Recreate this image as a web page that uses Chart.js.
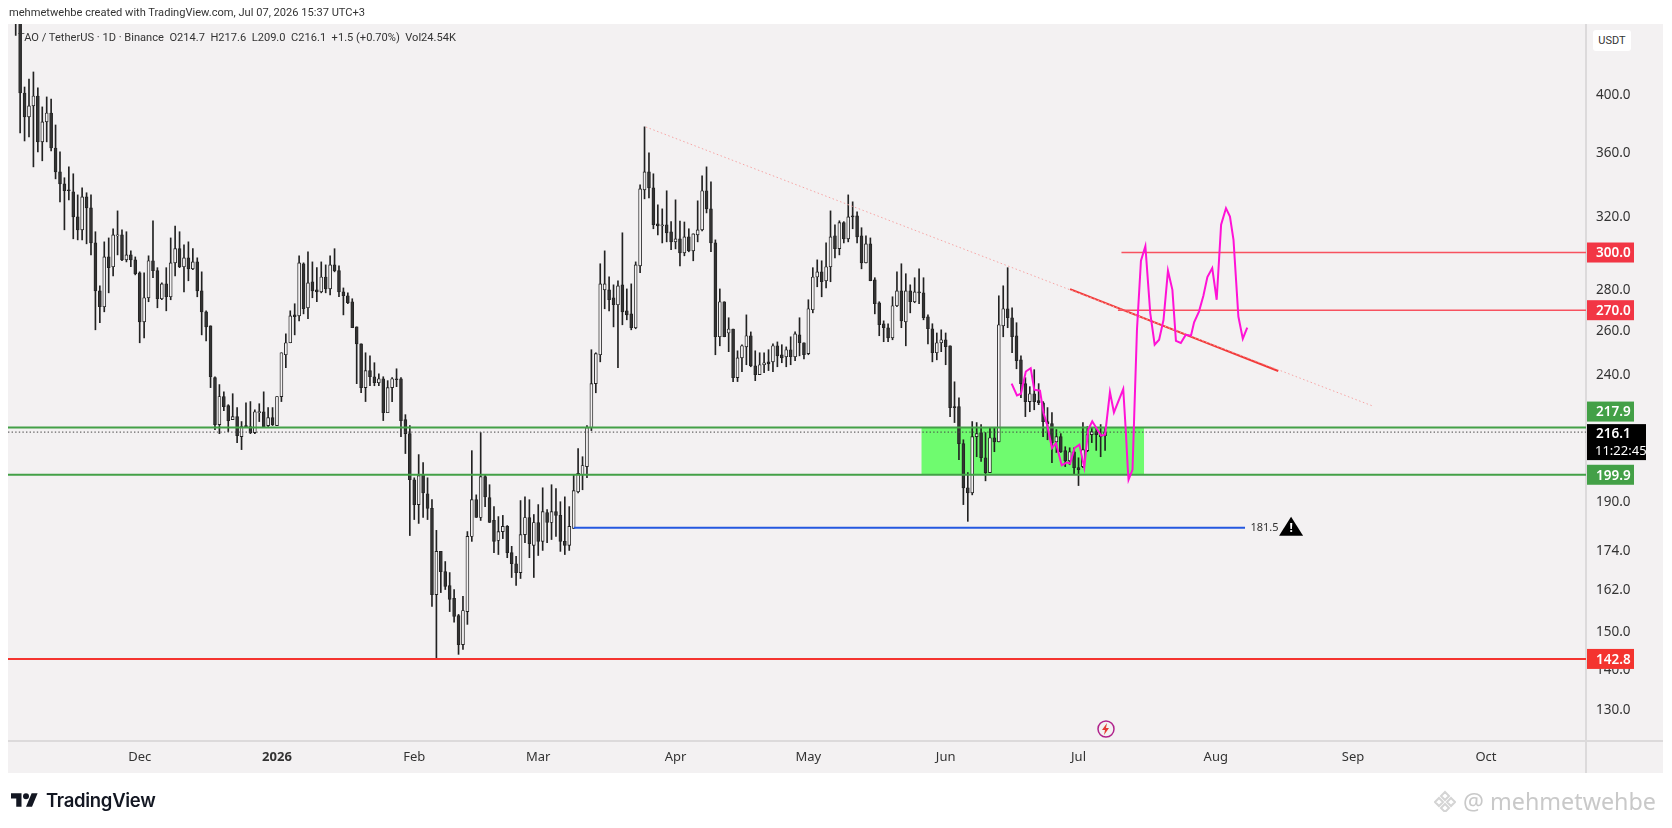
<!DOCTYPE html>
<html>
<head>
<meta charset="utf-8">
<title>TAO / TetherUS</title>
<script src="https://cdn.jsdelivr.net/npm/chart.js@4"></script>
<style>
    html, body { margin: 0; padding: 0; background: #fff; }
    #wrap { position: relative; width: 1672px; height: 828px; overflow: hidden; font-family: Roboto, sans-serif; }
    canvas { position: absolute; left: 0; top: 0; }
    .txt { position: absolute; white-space: pre; color: #333; }
    #credit { left: 9px; top: 5px; font-size: 11.1px; line-height: 16px; }
    #legend { left: 18px; top: 30px; font-size: 11.1px; line-height: 16px; }
    #usdt { left: 1593px; top: 30px; width: 38px; height: 21px; line-height: 21px; background: #fff; border-radius: 3px; font-size: 11px; text-align: center; }
    #brand { left: 46px; top: 786px; font-family: Inter, sans-serif; font-weight: 600; font-size: 18.5px; line-height: 28px; color: #131722; letter-spacing: -0.3px; }
    #mark { left: 1463px; top: 786px; font-family: "Noto Sans", sans-serif; font-size: 23.3px; line-height: 30px; color: #c9c9c9; }
    svg { position: absolute; }
</style>
</head>
<body>
<div id="wrap">
    <canvas id="chart" width="1672" height="828"></canvas>
    <div class="txt" id="credit">mehmetwehbe created with TradingView.com, Jul 07, 2026 15:37 UTC+3</div>
    <div class="txt" id="legend">TAO / TetherUS · 1D · Binance  O214.7  H217.6  L209.0  C216.1  +1.5 (+0.70%)  Vol24.54K</div>
    <div class="txt" id="usdt">USDT</div>
    <svg style="left:11px;top:793px" width="27" height="14" viewBox="0 4 36 18"><path fill="#131722" d="M14 22H7V11H0V4h14v18zM28 22h-8l7.5-18h8L28 22z"/><circle fill="#131722" cx="20" cy="8" r="4"/></svg>
    <div class="txt" id="brand">TradingView</div>
    <svg style="left:1434px;top:790px" width="22" height="22" viewBox="0 0 22 22"><path fill="none" stroke="#d4d4d4" stroke-width="2" d="M11 2l4 4-4 4-4-4zM5 8l4 4-4 4-4-4zM17 8l4 4-4 4-4-4zM11 14l4 4-4 4-4-4z"/></svg>
    <div class="txt" id="mark">@ mehmetwehbe</div>
    <svg style="left:1096px;top:719px" width="20" height="20" viewBox="0 0 20 20"><circle cx="10" cy="10" r="8" fill="none" stroke="#b0228c" stroke-width="1.5"/><path fill="#e53935" d="M11 4l-5 7h3l-1 5 5-7h-3z"/></svg>
</div>
<script>
// days are counted from Dec 1 2025
const FIRST_DAY = -28;
const opens = [470,458,401.5,384.3,392.1,399.3,367.2,380.8,387.1,363.1,
    347.6,340.1,336.4,335.2,320.2,312.7,332.1,325.5,305.3,279.7,
    271.7,297.6,292.3,309.3,309.8,296,298.7,296,289.1,264.3,
    276.2,295.5,290.2,275.7,283.3,276.7,294.4,302.1,292.3,297.1,
    291.2,294.9,279.7,269.2,262.4,238.7,219.1,230.6,226.8,221.1,
    222.3,214.3,218.7,218.3,215.9,223.9,224.3,218.7,221.9,218.7,
    230.6,248.9,254.4,267.7,267.2,293.9,271.2,284.4,280.2,279.2,
    286.9,280.7,293.3,290.2,279.2,277.2,274.2,261.9,253.9,234.4,
    241.8,239.1,236.5,238.2,223.9,234.4,238.2,238.2,221.1,215.5,
    198.1,189.3,200,193.1,188,160.6,173.8,167.5,163.3,159.5,
    154.6,146.6,155.7,178.6,191,184.9,199.2,191.7,183.9,177.3,
    180.2,181.9,173.4,169.9,167.2,179.2,184.9,175.7,183.2,177,
    186.6,183.2,186.9,185.6,177,175.7,181.2,193.8,200,202.9,
    217.9,236.1,248.9,280.2,280.2,276.2,272.7,282.8,269.7,268.2,
    261.5,292.8,336.4,347.6,337.6,316.2,315,315.6,311.6,305.9,
    307.6,299.8,308.7,300.9,309.8,312.7,335.8,324.9,305.3,257.2,
    274.2,259,260.9,238.7,247.5,252.5,257.7,243.9,240,244.4,
    245.7,245.7,253,248.9,248,251.2,248,258.1,254.4,249.4,
    270.2,286.9,289.6,284.9,292.3,309.3,302.1,316.8,307.6,320.8,
    320.8,309.3,294.4,304.8,285.4,273.7,263.4,261.5,256.7,272.2,
    279.7,264.3,279.7,274.2,279.2,278.7,266.8,261,249.8,254.4,
    255.8,253,226.4,226.4,211.6,195.2,193.4,214.3,215.9,206.2,
    200.7,213.9,212.3,262.4,270.7,266.3,257.7,246.6,236.1,228.5,
    231.8,228.9,228,220.3,219.5,212.3,214.3,208.9,205.1,208.5,
    202.5,202.9,208.9,215.1,216.3,215.1,214.7];
const highs = [480,480,405.9,411.8,417.2,405.2,391.4,398.6,397.1,378.7,
    360.5,343.9,350.8,346.4,333.3,337.6,334.6,333.3,311.6,282.3,
    305.9,308.1,313.3,323.7,312.7,311.6,300.9,297.6,289.6,289.1,
    298.2,317.9,291.8,283.8,291.8,308.1,314.9,311.6,304.2,305.9,
    302.1,297.1,289.6,269.7,262.4,239.1,235.7,232.6,227.2,231.8,
    226,220.3,228,228.5,225.1,227.6,232.6,226,226,230.6,
    249.8,258.6,269.7,273.2,298.2,294.4,300.4,294.9,291.8,294.9,
    293.3,298.2,302.1,292.8,281.2,278.7,275.7,261.9,253.9,249.8,
    248.4,245.3,240.4,239.1,237.4,238.7,242.6,238.7,223.1,218.7,
    198.8,207.4,204.4,198.8,191,180.6,173.8,170.6,167.2,162.1,
    154.9,160.1,180.2,208.9,192.7,215.9,200,196.3,188.6,185.2,
    185.6,182.2,175.4,172.2,190.7,192,191,185.9,189.3,195.2,
    187.6,196.3,194.9,190.3,192,188.6,200,209.7,206.6,218.7,
    251.2,249.8,293.9,300.9,287,282.8,284.9,311,280.7,283.3,
    294.9,339.5,377.4,359.9,346.4,327.3,324.9,335.8,317.4,330.3,
    317.8,317.2,313.3,310.4,329.7,345.1,350.8,341.4,307,280.7,
    274.2,266.3,260.9,250.7,253.5,267.7,259.5,250.7,249.8,249.8,
    251.2,253.9,254.8,253.5,252.5,257.2,259.5,266.3,254.4,275.2,
    291.8,296,295.5,305.3,323.7,315.6,317.9,317.4,333.3,329.1,
    323.1,313.9,309.3,308.1,286.5,274.2,264.8,263.4,276.7,289.6,
    293.9,288.6,282.8,286.5,291.2,286.5,267.7,263.4,259,260.5,
    259,253,236.9,230.1,213.1,200.7,220.3,219.9,219.1,215.9,
    217.9,217.9,277.2,282.3,291.8,271.2,263.9,248.4,238.7,234.8,
    242.2,236.1,228.5,226,223.9,217.1,215.5,210.4,210,210,
    206.2,219.9,218.3,217.9,217.9,219.1,217.6];
const lows = [446,373.2,367.8,370.5,350.8,360.5,354.7,367.2,361.2,343.2,
    329.1,312.7,330.3,307.6,307,307,304.8,298.7,260.5,263.9,
    269.2,278.7,287.5,298.7,295.5,294.9,292.3,288,254.4,256.7,
    274.2,286.5,271.2,275.2,269.7,275.2,287.5,291.8,279.2,284.9,
    290.7,276.7,258.1,255.3,234.4,217.1,215.5,224.7,216.3,221.1,
    212,209.3,217.9,215.5,215.5,220.3,217.9,217.9,218.7,218.7,
    228.5,243.1,254.4,258.1,264.8,268.2,265.8,276.2,274.2,278.7,
    278.7,277.7,289.6,276.7,267.7,273.2,261.5,236.1,232.2,228.5,
    235.2,235.2,235.2,220.7,223.9,228.5,234.8,214.3,207.8,178.9,
    184.2,182.9,184.9,184.2,157.2,142.8,161.2,162.1,155.7,152.7,
    144,145.3,152.1,177,184.9,183.9,188.6,183.2,173.4,172.8,
    177.9,171.8,165.7,163.3,165.4,176.6,171.8,165.7,172.5,174.1,
    176.6,177.6,178.6,173.8,172.8,174.1,181.2,193.4,194.5,198.8,
    216.7,232.2,245.7,270.7,269.7,261.9,243.1,262.9,265.3,260.5,
    261,289.1,330.9,331.5,313.3,309.8,305.3,305.9,301.5,302,
    292.8,298.2,300.4,295.5,305.9,312.1,322.5,300.4,248.9,253,
    257.2,250.3,237,237,241.3,244.4,243.5,237.4,240,240.9,
    241.8,241.3,243.5,245.3,243.5,244.4,246.2,248.4,247,248.9,
    268.7,281.8,276.7,281.2,284.4,297.1,298.7,305.3,305.9,313.3,
    305.3,291.2,294.4,284.9,268.2,257.7,254.9,254.9,255.8,271.7,
    261.5,253,268.7,273.7,273.2,265.3,253.9,245.7,246.6,250.3,
    244.4,222.3,219.9,205.5,189.3,183.6,192.7,206.6,204.8,197.7,
    200.7,208.5,212.3,257.2,261.5,249.8,242.6,230.1,222.3,224.3,
    225.1,227.2,214.3,213.1,204.4,208.2,208.2,202.9,203.6,200,
    196,202.5,208.5,212,209,206.6,209];
const closes = [458,401.5,384.3,392.1,399.3,367.2,380.8,387.1,363.1,347.6,
    340.1,335.8,335.8,320.2,312.7,332.1,325.5,305.3,279.7,271.7,
    297.6,291.8,309.8,309.8,296,298.7,296,288.6,264.3,276.2,
    295.5,290.2,275.7,283.3,276.7,294.4,302.1,292.3,297.1,291.2,
    294.9,279.7,269.2,261.9,239.1,219.1,230.6,226.4,220.7,222.3,
    214.7,218.3,218.3,215.9,224.3,224.3,218.3,221.9,219.1,230.6,
    249.8,254.4,267.2,266.8,294.4,270.7,283.8,279.7,279.2,286.9,
    280.7,293.3,290.2,279.2,277.2,273.7,261.5,253.9,234.4,241.8,
    239.1,236.5,238.2,223.9,234.4,238.2,237.8,220.7,215.5,198.1,
    189.3,199.6,193.4,188,160.6,173.8,167.5,163,159.2,154.3,
    146.6,156,178.6,191,184.9,199.2,192,183.2,177,180.2,
    181.9,173.4,169.9,167.2,179.2,184.9,176.3,183.2,177,186.9,
    183.2,186.9,185.6,177,175.7,181.9,194.2,200.4,203.3,217.9,
    236.1,249.4,283.3,283.3,275.2,272.7,282.3,269.2,267.7,261.5,
    293.3,337,347.6,337.6,315.6,315,315.6,311,305.9,307.6,
    299.8,308.7,300.9,310.4,312.7,335.8,324.9,305.3,257.2,274.2,
    257.2,260.9,238.7,247.5,253,257.7,243.9,240,244.4,245.3,
    244.8,253,248.4,247.5,251.2,248,258.6,254.4,248.9,270.7,
    286.9,289.6,284.4,292.3,308.7,302.1,316.8,307.6,320.2,320.2,
    308.7,294.4,304.8,284.9,273.2,262.9,261.5,256.7,272.2,279.7,
    264.8,279.7,274.2,279.2,278.7,266.3,261,249.8,254.4,255.8,
    252.6,226,226,211.6,195.2,193.4,214.3,215.5,206.2,200.7,
    213.9,212.3,262.9,270.7,266.3,257.2,246.2,236.1,228.5,231.8,
    228.5,228,220.3,219.5,211.9,214.3,208.5,205.1,208.5,202.5,
    201.8,209.3,215.1,216.3,215.1,214.3,216.1];

const monthDays = [0,31,62,90,121,151,182,212,243,274,304];
const monthLabels = ["Dec","2026","Feb","Mar","Apr","May","Jun","Jul","Aug","Sep","Oct"];
const priceTicks = [400,360,320,280,260,240,190,174,162,150,140,130];

// the hand drawn path
const pathDays = [196.9,198.1,199,200.1,201.2,202,203.3,204.1,204.9,206,206.9,208.2,209.4,210.1,211.1,212.2,213.3,214.2,215.1,217.1,218,219.1,220,222.1,222.7,223.1,223.3,224.2,224.6,225.2,226.1,227.1,228.2,229.2,230.2,231.2,232.2,233.2,234,235.1,236.2,237.4,238.1,239.2,240.2,241.1,242.2,243.2,244.2,245.3,246.2,247,248.1,249.1,250.1];
const pathPrices = [236.1,231.1,231.8,241.4,242.9,233.5,233.1,223.8,219.1,209.9,211.8,203.4,204.5,204,209.9,211.2,202.5,217.1,220.4,214.7,215.1,232.5,224,233.8,215.9,203,198.1,201.8,223.9,260.5,295.5,303.5,268.6,253.5,255.8,265.3,290.2,280.2,255.3,254.3,258.1,257.7,264.1,269.3,277.2,286.8,291.6,275.2,315.6,325.3,320.3,307,266.9,256.3,261.5];

// trend line, first two points are the dotted ends, last two the solid part
const trendDays = [114.3,278.5,210.1,257.1];
const trendPrices = [377.3,226.6,280.6,241.6];

const DAY_MIN = -29.74, DAY_MAX = 326.6;
const PRICE_MIN = 122.92, PRICE_MAX = 455.4;
const PANE_BG = '#f3f1f2';
const UP_FILL = PANE_BG, DOWN_FILL = '#333333', CANDLE_LINE = '#222222';

const days = opens.map((_, i) => FIRST_DAY + i);

function level(price, from, to, color, width, dash){
    return {
        type:'line',
        data:[{x:from,y:price},{x:to,y:price}],
        borderColor:color, borderWidth:width, borderDash:dash||[],
        pointRadius:0, order:3
    };
}

function segment(d0, p0, d1, p1, color, width, dash){
    return {
        type:'line',
        data:[{x:d0,y:p0},{x:d1,y:p1}],
        borderColor:color, borderWidth:width, borderDash:dash||[],
        pointRadius:0, order:3
    };
}

const datasets = [
    // green zone
    {
        type:'line',
        data:[{x:176.5,y:217.9},{x:226.8,y:217.9}],
        borderWidth:0, pointRadius:0,
        backgroundColor:'#6ffb6f', fill:{value:199.9}, order:10
    },
    level(217.9, DAY_MIN, DAY_MAX, '#43a047', 2),
    level(199.9, DAY_MIN, DAY_MAX, '#43a047', 2),
    level(216.1, DAY_MIN, DAY_MAX, '#444444', 1, [1.4,2.2]),
    level(142.8, DAY_MIN, DAY_MAX, '#f4342f', 2),
    level(181.5, 98, 249.6, '#2458e0', 2),
    level(300, 221.7, DAY_MAX, '#f7525f', 1.5),
    level(270, 220.9, DAY_MAX, '#f7525f', 1.5),
    segment(trendDays[0], trendPrices[0], trendDays[1], trendPrices[1], '#f7a5a5', 1, [1.5,2.5]),
    segment(trendDays[2], trendPrices[2], trendDays[3], trendPrices[3], '#f23a3a', 2),
    // wicks
    {
        type:'bar', grouped:false, order:6,
        data:days.map((d,i)=>({x:d,y:[lows[i],highs[i]]})),
        backgroundColor:CANDLE_LINE, barThickness:1, minBarLength:1, borderWidth:0
    },
    // bodies
    {
        type:'bar', grouped:false, order:5,
        data:days.map((d,i)=>({x:d,y:[Math.min(opens[i],closes[i]),Math.max(opens[i],closes[i])]})),
        backgroundColor:days.map((d,i)=>closes[i]>=opens[i]?UP_FILL:DOWN_FILL),
        borderColor:CANDLE_LINE, borderWidth:0.9, borderSkipped:false,
        barThickness:3, minBarLength:1
    },
    {
        type:'line', order:1,
        data:pathDays.map((d,i)=>({x:d,y:pathPrices[i]})),
        borderColor:'#ff12d6', borderWidth:2, pointRadius:0, tension:0
    }
];

const panePlugin = {
    id:'pane',
    beforeDraw(chart){
        const {ctx, chartArea:a} = chart;
        ctx.save();
        ctx.fillStyle = PANE_BG;
        ctx.fillRect(a.left, a.top, 1663-a.left, 773-a.top);
        ctx.strokeStyle = '#dcdadb';
        ctx.lineWidth = 2;
        ctx.beginPath();
        ctx.moveTo(a.left, a.bottom); ctx.lineTo(1663, a.bottom);
        ctx.moveTo(a.right, a.top); ctx.lineTo(a.right, 773);
        ctx.stroke();
        ctx.restore();
    }
};

function priceTag(ctx, y, h, w, color, text){
    ctx.fillStyle = color;
    ctx.fillRect(1587, y-h/2, w, h);
    ctx.fillStyle = '#fff';
    ctx.fillText(text, 1596, y+1);
}

const tagPlugin = {
    id:'tags',
    afterDraw(chart){
        const {ctx, scales:{x, y}} = chart;
        ctx.save();
        ctx.textBaseline = 'middle';
        ctx.textAlign = 'left';
        ctx.font = '600 13.5px "Noto Sans"';
        priceTag(ctx, y.getPixelForValue(300), 20, 47, '#f23645', '300.0');
        priceTag(ctx, y.getPixelForValue(270), 20, 47, '#f23645', '270.0');
        priceTag(ctx, y.getPixelForValue(217.9)-16, 20, 47, '#43a047', '217.9');
        priceTag(ctx, y.getPixelForValue(199.9), 20, 47, '#43a047', '199.9');
        priceTag(ctx, y.getPixelForValue(142.8), 20, 47, '#f4342f', '142.8');
        // current price with the countdown
        const py = y.getPixelForValue(216.1);
        ctx.fillStyle = '#000';
        ctx.fillRect(1587, py-8, 59, 36);
        ctx.fillStyle = '#fff';
        ctx.fillText('216.1', 1596, py+2);
        ctx.font = '13px "Noto Sans"';
        ctx.fillText('11:22:45', 1595, py+19);
        // level label and warning sign on the blue line
        const by = y.getPixelForValue(181.5);
        ctx.fillStyle = '#333';
        ctx.font = '11px "Noto Sans"';
        ctx.textAlign = 'center';
        ctx.fillText('181.5', x.getPixelForValue(254), by);
        const wx = x.getPixelForValue(260);
        ctx.fillStyle = '#000';
        ctx.beginPath();
        ctx.moveTo(wx, by-11); ctx.lineTo(wx+12, by+8); ctx.lineTo(wx-12, by+8);
        ctx.closePath();
        ctx.fill();
        ctx.fillStyle = '#fff';
        ctx.font = 'bold 12px "Noto Sans"';
        ctx.fillText('!', wx, by+1);
        ctx.restore();
    }
};

new Chart(document.getElementById('chart'), {
    type:'bar',
    data:{datasets},
    options:{
        responsive:false,
        animation:false,
        layout:{padding:{left:8, right:9, top:24, bottom:55}},
        plugins:{legend:{display:false}, tooltip:{enabled:false}},
        scales:{
            x:{
                type:'linear', offset:false, bounds:'data',
                min:DAY_MIN, max:DAY_MAX,
                grid:{display:false, drawTicks:false},
                border:{display:false},
                afterBuildTicks(s){ s.ticks = monthDays.map(v=>({value:v})); },
                afterFit(s){ s.height = 32; },
                ticks:{
                    autoSkip:false, maxRotation:0, padding:8, color:'#333',
                    font:c=>({family:'"Noto Sans"', size:13, weight:c.tick&&c.tick.value===31?'bold':'normal'}),
                    callback:v=>monthLabels[monthDays.indexOf(v)]
                }
            },
            y:{
                type:'logarithmic', position:'right', bounds:'data',
                min:PRICE_MIN, max:PRICE_MAX,
                grid:{display:false, drawTicks:false},
                border:{display:false},
                afterBuildTicks(s){ s.ticks = priceTicks.map(v=>({value:v})); },
                afterFit(s){ s.width = 77; },
                ticks:{
                    autoSkip:false, padding:10, color:'#333',
                    font:{family:'"Noto Sans"', size:13.5},
                    callback:v=>v.toFixed(1)
                }
            }
        }
    },
    plugins:[panePlugin, tagPlugin]
});
</script>
</body>
</html>
